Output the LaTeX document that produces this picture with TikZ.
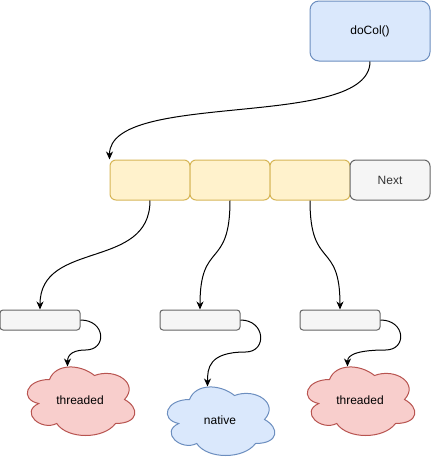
\documentclass[tikz,border=0pt]{standalone}
\usepackage{fontspec}
\setmainfont{Liberation Sans}
\usetikzlibrary{arrows.meta,backgrounds}
\definecolor{bluef}{HTML}{DAE8FC}
\definecolor{bluel}{HTML}{6C8EBF}
\definecolor{yelf}{HTML}{FFF2CC}
\definecolor{yell}{HTML}{D6B656}
\definecolor{grayf}{HTML}{F5F5F5}
\definecolor{grayl}{HTML}{666666}
\definecolor{grayt}{HTML}{333333}
\definecolor{redf}{HTML}{F8CECC}
\definecolor{redl}{HTML}{B85450}
\newcommand\mycloudshape[3]{%
  \begin{scope}[on background layer, shift={(#1.north west)}, x=120pt, y=-80pt]
    \draw[fill=#2, draw=#3, line width=1pt]
      (0.25,0.25) .. controls (0.05,0.25) and (0,0.5) .. (0.16,0.55)
      .. controls (0,0.66) and (0.18,0.9) .. (0.31,0.8)
      .. controls (0.4,1) and (0.7,1) .. (0.8,0.8)
      .. controls (1,0.8) and (1,0.6) .. (0.875,0.5)
      .. controls (1,0.3) and (0.8,0.1) .. (0.625,0.2)
      .. controls (0.5,0.05) and (0.3,0.05) .. (0.25,0.25) -- cycle;
  \end{scope}}
\tikzset{
  base/.style={rectangle, inner sep=0pt, line width=1pt, font=\fontsize{12}{14}\selectfont},
  bluebox/.style={base, draw=bluel, fill=bluef, minimum width=120pt, minimum height=60pt, rounded corners=9pt},
  yelbox/.style={base, draw=yell, fill=yelf, minimum width=80pt, minimum height=40pt, rounded corners=6pt},
  nextbox/.style={base, draw=grayl, fill=grayf, text=grayt, minimum width=80pt, minimum height=40pt, rounded corners=6pt},
  slot/.style={base, draw=grayl, fill=grayf, minimum width=80pt, minimum height=20pt, rounded corners=3pt},
  cloudarea/.style={base, minimum width=120pt, minimum height=80pt},
  arr/.style={line width=1pt, -{Stealth[length=8pt,width=7pt,inset=2.5pt]}}
}
\begin{document}
\begin{tikzpicture}[x=1pt,y=-1pt]
\useasboundingbox (0,0) rectangle (431,461);
\node[bluebox] (docol) at (370,31) {doCol()};
\node[yelbox] (y1) at (150,180) {};
\node[yelbox] (y2) at (230,180) {};
\node[yelbox] (y3) at (310,180) {};
\node[nextbox] (next) at (390,180) {Next};
\node[slot] (s1) at (40,320) {};
\node[slot] (s2) at (200,320) {};
\node[slot] (s3) at (340,320) {};
\node[cloudarea] (c1) at (80,400) {threaded};
\node[cloudarea] (c2) at (220,420) {native};
\node[cloudarea] (c3) at (360,400) {threaded};
\mycloudshape{c1}{redf}{redl}
\mycloudshape{c2}{bluef}{bluel}
\mycloudshape{c3}{redf}{redl}
\coordinate (t1) at ([shift={(48,7)}]c1.north west);
\coordinate (t2) at ([shift={(48,7)}]c2.north west);
\coordinate (t3) at ([shift={(48,7)}]c3.north west);
\draw[arr] (docol.south) .. controls +(0,69) and +(0,-70) .. (y1.north west);
\draw[arr] (y1.south) .. controls +(0,70) and +(0,-70) .. (s1.north);
\draw[arr] (y2.south) .. controls +(0,70) and +(0,-70) .. (s2.north);
\draw[arr] (y3.south) .. controls +(0,70) and +(0,-70) .. (s3.north);
\draw[arr] (s1.east) .. controls +(25,0) and +(22,0) .. ++(5,30) .. controls +(-17,0) and +(0,-8) .. (t1);
\draw[arr] (s2.east) .. controls +(25,0) and +(22,0) .. ++(5,32) .. controls +(-37,0) and +(0,-18) .. (t2);
\draw[arr] (s3.east) .. controls +(25,0) and +(22,0) .. ++(5,30) .. controls +(-37,0) and +(0,-8) .. (t3);
\end{tikzpicture}
\end{document}
